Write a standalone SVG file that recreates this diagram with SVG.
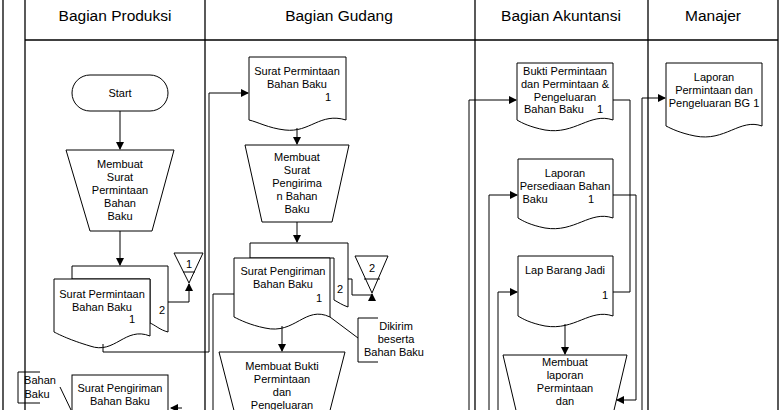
<svg xmlns="http://www.w3.org/2000/svg" width="780" height="410" viewBox="0 0 780 410">
<defs>
<marker id="ar" markerWidth="8" markerHeight="8" refX="7" refY="4" orient="auto" markerUnits="userSpaceOnUse"><path d="M0,0 L8,4 L0,8 Z" fill="#000"/></marker>
<style>
.s{fill:#fff;stroke:#000;stroke-width:1}
.l{fill:none;stroke:#000;stroke-width:1}
.b{fill:none;stroke:#000;stroke-width:1.3}
text{font-family:"Liberation Sans",Arial,sans-serif;font-size:11px;fill:#000;text-anchor:middle}
.h{font-size:15.5px}
</style>
</defs>
<rect width="780" height="410" fill="#fff"/>
<g id="lanes">
<line class="b" x1="3" y1="0" x2="3" y2="410"/>
<line class="b" x1="25" y1="0" x2="25" y2="410"/>
<line class="b" x1="205" y1="0" x2="205" y2="410"/>
<line class="b" x1="475" y1="0" x2="475" y2="410"/>
<line class="b" x1="648" y1="0" x2="648" y2="410"/>
<line class="b" x1="778" y1="0" x2="778" y2="410"/>
<line class="b" x1="25" y1="40" x2="778" y2="40"/>
<text class="h" x="115" y="21">Bagian Produksi</text>
<text class="h" x="339" y="21">Bagian Gudang</text>
<text class="h" x="561" y="21">Bagian Akuntansi</text>
<text class="h" x="713" y="21">Manajer</text>
</g>
<g id="start"><rect class="s" x="72" y="75" width="96" height="36" rx="18"/><text x="120" y="97">Start</text></g>
<g id="p_membuat"><path class="s" d="M66,150 H174 L152,231 H90 Z"/><text x="120" y="168">Membuat</text><text x="120" y="181">Surat</text><text x="120" y="194">Permintaan</text><text x="120" y="207">Bahan</text><text x="120" y="220">Baku</text></g>
<g id="p_spbb">
<path class="s" d="M72,266 H168 V332 C160,330 155,325 150,323 V279 H72 Z"/>
<path class="s" d="M54,279 H150 V336 C125,326 115,355 90,346 C70,340 60,335 54,332 Z"/>
<text x="102" y="298">Surat Permintaan</text><text x="102" y="311">Bahan Baku</text><text x="132" y="323">1</text><text x="162" y="314">2</text>
</g>
<g id="tri1"><path class="s" d="M174,253 H203 L189,283 Z"/><line class="l" x1="183" y1="272" x2="195" y2="272"/><text x="189" y="268">1</text></g>
<g id="g_spbb"><path class="s" d="M249,57 H346 V120 C320,112 310,133 285,130 C268,128 258,122 249,120 Z"/><text x="297" y="75">Surat Permintaan</text><text x="297" y="88">Bahan Baku</text><text x="328" y="101">1</text></g>
<g id="g_membuat"><path class="s" d="M245,145 H349 L332,222 H262 Z"/><text x="297" y="161">Membuat</text><text x="297" y="174">Surat</text><text x="297" y="187">Pengirima</text><text x="297" y="200">n Bahan</text><text x="297" y="213">Baku</text></g>
<g id="g_spgbb">
<path class="s" d="M250,243 H348 V307 C342,305 338,302 334,300 V258 H250 Z"/>
<path class="s" d="M234,258 H330 V317 C305,305 295,335 265,328 C250,325 240,320 234,317 Z"/>
<text x="283" y="275">Surat Pengiriman</text><text x="283" y="288">Bahan Baku</text><text x="319" y="302">1</text><text x="340" y="293">2</text>
</g>
<g id="tri2"><path class="s" d="M355,256 H388 L372,293 Z"/><line class="l" x1="364" y1="279" x2="380" y2="279"/><text x="372" y="272">2</text></g>
<g id="dikirim"><path class="l" d="M378,318 H358 V362 H378"/><line class="l" x1="330" y1="317" x2="358" y2="338"/><text x="396" y="330">Dikirim</text><text x="396" y="343">beserta</text><text x="394" y="356">Bahan Baku</text></g>
<g id="g_bukti"><path class="s" d="M219,352 H345 L325,430 H239 Z"/><text x="282" y="370">Membuat Bukti</text><text x="282" y="383">Permintaan</text><text x="282" y="396">dan</text><text x="282" y="409">Pengeluaran</text></g>
<g id="bahanbaku"><path class="l" d="M40,372 H18 V403 H40"/><text x="40" y="384">Bahan</text><text x="37" y="398">Baku</text><line class="l" x1="60" y1="387" x2="72" y2="412"/></g>
<g id="p_spg"><rect class="s" x="72" y="375" width="96" height="45"/><text x="120" y="392">Surat Pengiriman</text><text x="120" y="405">Bahan Baku</text></g>
<g id="a_bukti"><path class="s" d="M517,63 H613 V120 C590,112 575,135 545,130 C530,127 522,123 517,120 Z"/><text x="565" y="75">Bukti Permintaan</text><text x="565" y="88">dan Permintaan &amp;</text><text x="565" y="101">Pengeluaran</text><text x="554" y="113">Bahan Baku</text><text x="600" y="113">1</text></g>
<g id="a_lap"><path class="s" d="M518,159 H613 V218 C590,210 575,233 545,228 C530,225 523,221 518,218 Z"/><text x="565" y="177">Laporan</text><text x="565" y="190">Persediaan Bahan</text><text x="535" y="203">Baku</text><text x="591" y="203">1</text></g>
<g id="a_lbj"><path class="s" d="M518,256 H613 V316 C590,308 575,331 545,326 C530,323 523,319 518,316 Z"/><text x="565" y="274">Lap Barang Jadi</text><text x="605" y="299">1</text></g>
<g id="a_membuat"><path class="s" d="M503,355 H627 L607,440 H523 Z"/><text x="565" y="366">Membuat</text><text x="565" y="379">laporan</text><text x="565" y="392">Permintaan</text><text x="565" y="405">dan</text></g>
<g id="m_lap"><path class="s" d="M666,63 H762 V126 C740,118 725,142 695,136 C680,133 672,129 666,126 Z"/><text x="714" y="81">Laporan</text><text x="714" y="94">Permintaan dan</text><text x="714" y="107">Pengeluaran BG 1</text></g>
<g id="connectors">
<line class="l" x1="120" y1="111" x2="120" y2="149" marker-end="url(#ar)"/>
<line class="l" x1="120" y1="231" x2="120" y2="265" marker-end="url(#ar)"/>
<path class="l" d="M168,302 H189 V284" marker-end="url(#ar)"/>
<path class="l" d="M103,344 V352 H209 V93 H248" marker-end="url(#ar)"/>
<line class="l" x1="297" y1="128" x2="297" y2="144" marker-end="url(#ar)"/>
<line class="l" x1="297" y1="222" x2="297" y2="242" marker-end="url(#ar)"/>
<path class="l" d="M348,279 H352 V295 H372 V294" marker-end="url(#ar)"/>
<line class="l" x1="282" y1="326" x2="282" y2="351" marker-end="url(#ar)"/>
<path class="l" d="M234,294 H213 V410"/>
<path class="l" d="M182,408 H171" marker-end="url(#ar)"/>
<path class="l" d="M469,410 V100 H516" marker-end="url(#ar)"/>
<path class="l" d="M489,410 V195 H517" marker-end="url(#ar)"/>
<path class="l" d="M498,410 V292 H517" marker-end="url(#ar)"/>
<path class="l" d="M613,100 H630 V292 H613"/>
<path class="l" d="M613,195 H636 V400 H617" marker-end="url(#ar)"/>
<line class="l" x1="565" y1="324" x2="565" y2="354" marker-end="url(#ar)"/>
<path class="l" d="M642,410 V98 H665" marker-end="url(#ar)"/>
</g>
</svg>
